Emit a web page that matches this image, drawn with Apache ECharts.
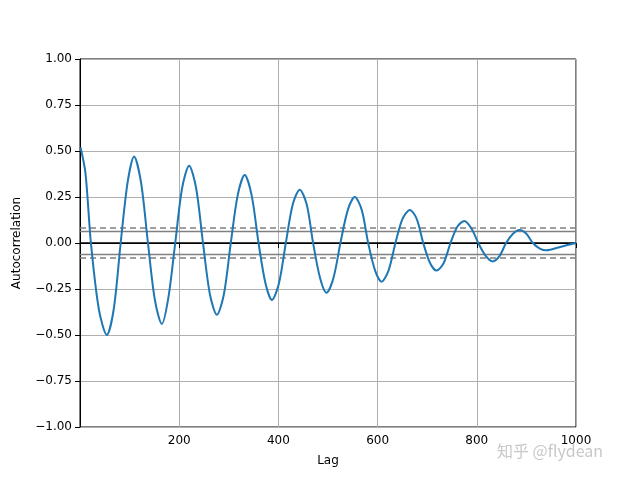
<!DOCTYPE html>
<html>
<head>
<meta charset="utf-8">
<script src="https://cdn.jsdelivr.net/npm/echarts@6/dist/echarts.min.js"></script>
<style>html,body{margin:0;padding:0;background:#fff}#chart{width:640px;height:480px}</style>
</head>
<body>
<div id="chart"></div>
<script>
// lag values and autocorrelation
const lags = [1, 11, 22, 38, 54, 68, 82, 96, 109, 123, 137, 151, 165, 178, 192, 206, 220, 234, 248, 262,
    276, 290, 304, 318, 332, 346, 360, 374, 387, 401, 415, 429, 443, 457, 470, 484, 497, 511, 525, 540,
    554, 568, 581, 595, 608, 622, 636, 650, 665, 679, 692, 706, 719, 733, 747, 761, 775, 789, 803, 818,
    832, 846, 859, 873, 886, 900, 913, 927, 940, 970, 1000];
const acf = [0.52, 0.38, 0.0, -0.36, -0.50, -0.36, 0.0, 0.33, 0.47, 0.33, 0.0, -0.31, -0.44, -0.30, 0.0, 0.30, 0.42, 0.30, 0.0, -0.28,
    -0.39, -0.28, 0.0, 0.26, 0.37, 0.26, 0.0, -0.22, -0.31, -0.22, 0.0, 0.21, 0.29, 0.21, 0.0, -0.19, -0.27, -0.19, 0.0, 0.18,
    0.25, 0.18, 0.0, -0.15, -0.21, -0.15, 0.0, 0.13, 0.18, 0.13, 0.0, -0.11, -0.15, -0.11, 0.0, 0.09, 0.12, 0.08, 0.0, -0.07,
    -0.10, -0.07, 0.0, 0.05, 0.07, 0.05, 0.0, -0.03, -0.04, -0.02, 0.0];
const z95 = 0.062;
const z99 = 0.081;

const chart = echarts.init(document.getElementById('chart'));
const hline = (y, color, type) => ({
    type: 'line', silent: true, symbol: 'none', animation: false,
    data: [[0, y], [1000, y]],
    lineStyle: { color: color, width: 1.5, type: type }
});

chart.setOption({
    animation: false,
    grid: { left: 80, right: 64, top: 59, bottom: 53, show: true, borderColor: '#000', borderWidth: 1 },
    xAxis: {
        type: 'value', min: 0, max: 1000, interval: 200,
        name: 'Lag', nameLocation: 'middle', nameGap: 28,
        nameTextStyle: { color: '#000', fontSize: 12, fontFamily: 'DejaVu Sans' },
        axisLine: { lineStyle: { color: '#000' } },
        axisTick: { show: true, lineStyle: { color: '#000' } },
        axisLabel: { color: '#000', fontSize: 12, fontFamily: 'DejaVu Sans', formatter: v => v === 0 ? '' : v },
        splitLine: { show: true, lineStyle: { color: '#b0b0b0' } }
    },
    yAxis: {
        type: 'value', min: -1, max: 1, interval: 0.25,
        name: 'Autocorrelation', nameLocation: 'middle', nameGap: 57,
        nameTextStyle: { color: '#000', fontSize: 12, fontFamily: 'DejaVu Sans' },
        axisLine: { show: true, lineStyle: { color: '#000' } },
        axisTick: { show: true, lineStyle: { color: '#000' } },
        axisLabel: { color: '#000', fontSize: 12, fontFamily: 'DejaVu Sans', formatter: v => v.toFixed(2).replace('-', '\u2212') },
        splitLine: { show: true, lineStyle: { color: '#b0b0b0' } }
    },
    series: [
        hline(z99, '#808080', [6, 4]),
        hline(-z99, '#808080', [6, 4]),
        hline(z95, '#808080', 'solid'),
        hline(-z95, '#808080', 'solid'),
        hline(0, '#000', 'solid'),
        {
            type: 'line', smooth: 0.3, symbol: 'none',
            data: lags.map((l, i) => [l, acf[i]]),
            lineStyle: { color: '#1f77b4', width: 2 }
        }
    ],
    graphic: [{
        type: 'text', left: 497, top: 443,
        style: { text: '知乎 @flydean', fill: '#c8c8c8', fontSize: 16, fontFamily: 'Noto Sans CJK SC' }
    }]
});
</script>
</body>
</html>
